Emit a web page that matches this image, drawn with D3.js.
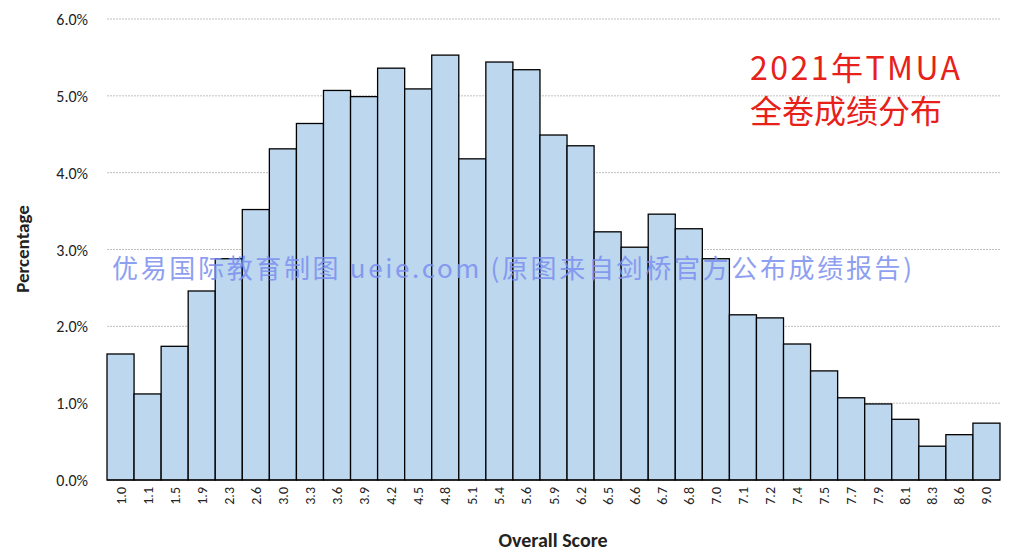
<!DOCTYPE html><html><head><meta charset="utf-8"><script src="https://cdn.jsdelivr.net/npm/d3@7"></script>
<style>body{margin:0;background:#fff}</style></head><body><svg id="c" width="1024" height="554"></svg>
<script>
const categories=["1.0","1.1","1.5","1.9","2.3","2.6","3.0","3.3","3.6","3.9","4.2","4.5","4.8","5.1","5.4","5.6","5.9","6.2","6.5","6.6","6.7","6.8","7.0","7.1","7.2","7.4","7.5","7.7","7.9","8.1","8.3","8.6","9.0"];
const values=[1.64,1.12,1.74,2.46,2.88,3.52,4.31,4.64,5.07,4.99,5.36,5.09,5.53,4.18,5.44,5.34,4.49,4.35,3.23,3.03,3.46,3.27,2.88,2.15,2.11,1.77,1.42,1.07,0.99,0.79,0.44,0.59,0.74];
const yTicks=[0,1,2,3,4,5,6];
const svg=d3.select("#c");
const x=d3.scaleBand().domain(categories).range([107,1000]).padding(0);
const y=d3.scaleLinear().domain([0,6]).range([480,19]);
const f="Calibri, Carlito, 'Open Sans', sans-serif";
svg.append("g").selectAll("line").data(yTicks).join("line").attr("x1",107).attr("x2",1000).attr("y1",d=>y(d)).attr("y2",d=>y(d)).attr("stroke","#bfbfbf").attr("stroke-dasharray","2,1");
svg.append("g").selectAll("text").data(yTicks).join("text").attr("x",88).attr("y",d=>y(d)+6).attr("text-anchor","end").attr("font-family",f).attr("font-size",16).attr("fill","#222").text(d=>d.toFixed(1)+"%");
svg.append("g").selectAll("rect").data(values).join("rect").attr("x",(d,i)=>x(categories[i])).attr("width",x.bandwidth()).attr("y",d=>y(d)).attr("height",d=>480-y(d)).attr("fill","#bdd7ee").attr("stroke","#000").attr("stroke-width",1.3);
svg.append("line").attr("x1",107).attr("x2",1000).attr("y1",480).attr("y2",480).attr("stroke","#000");
svg.append("g").selectAll("text").data(categories).join("text").attr("transform",d=>`translate(${x(d)+x.bandwidth()/2+5},${487}) rotate(-90)`).attr("text-anchor","end").attr("font-family",f).attr("font-size",14).attr("fill","#222").text(d=>d);
svg.append("text").attr("x",553).attr("y",547).attr("text-anchor","middle").attr("font-family",f).attr("font-size",20).attr("font-weight","bold").attr("fill","#222").text("Overall Score");
svg.append("text").attr("transform","translate(29,249) rotate(-90)").attr("text-anchor","middle").attr("font-family",f).attr("font-size",19).attr("font-weight","bold").attr("fill","#222").text("Percentage");
svg.append("text").attr("x",750).attr("y",80).attr("font-family","'Noto Sans CJK SC',sans-serif").attr("font-size",32).attr("fill","#e8201a").attr("textLength",210).text("2021年TMUA");
svg.append("text").attr("x",750).attr("y",123).attr("font-family","'Noto Sans CJK SC',sans-serif").attr("font-size",32).attr("fill","#e8201a").text("全卷成绩分布");
svg.append("text").attr("x",112).attr("y",278).attr("font-family","'Noto Sans CJK SC',serif").attr("font-size",26).attr("fill","#7b8ff0").attr("opacity",0.85).attr("textLength",800).text("优易国际教育制图 ueie.com (原图来自剑桥官方公布成绩报告)");
</script></body></html>
